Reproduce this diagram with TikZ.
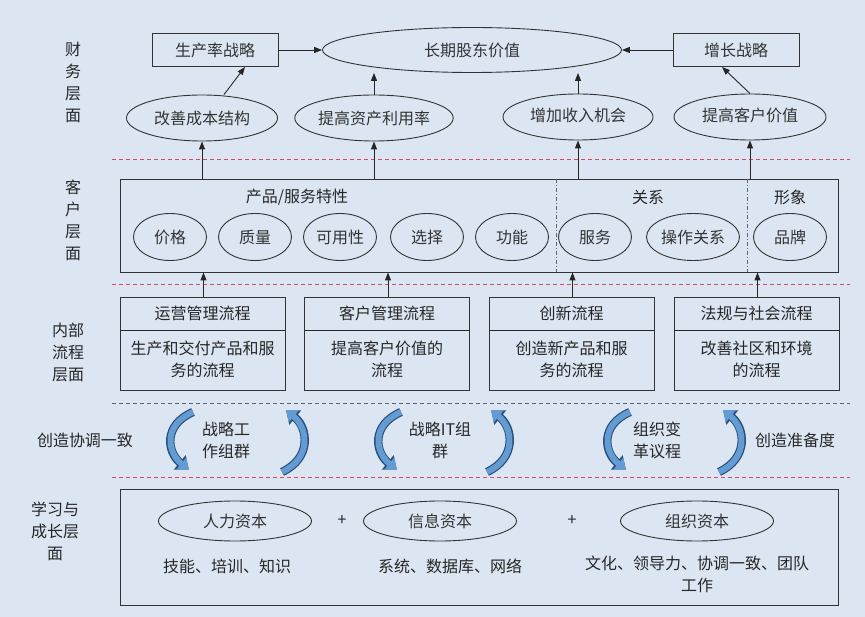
\documentclass[tikz,border=0pt]{standalone}
\usepackage{fontspec}
\setmainfont{Noto Sans CJK SC}
\usetikzlibrary{arrows.meta,shapes.geometric}
\definecolor{bg}{RGB}{220,230,242}
\definecolor{redd}{RGB}{220,70,95}
\definecolor{greyd}{RGB}{90,100,115}
\definecolor{afill}{RGB}{100,155,210}
\definecolor{aline}{RGB}{40,80,125}
\tikzset{
  txt/.style={font=\fontsize{16}{22}\selectfont, align=center, inner sep=0pt},
  ell/.style={draw, ellipse, font=\fontsize{16}{22}\selectfont, inner sep=0pt, line width=0.9pt, color=black!80},
  box/.style={draw, rectangle, line width=0.9pt, color=black!80},
  arr/.style={-{Triangle[width=6pt,length=8pt]}, line width=0.9pt, color=black!85},
  reddash/.style={draw=redd, dash pattern=on 4pt off 3pt, line width=1pt},
  greydash/.style={draw=greyd, dash pattern=on 4pt off 3pt, line width=0.9pt},
  curv/.style={afill, line width=6pt, -{Triangle[width=15pt,length=10pt]}},
  curvo/.style={aline, line width=8.4pt, -{Triangle[width=18pt,length=12pt]}}
}
\begin{document}
\begin{tikzpicture}[x=1pt,y=-1pt, black!85]
\fill[bg] (0,0) rectangle (865,617);
\useasboundingbox (0,0) rectangle (865,617);
% left labels
\node[txt] (l1) at (73,82) {财\\务\\层\\面};
\node[txt] (l2) at (73,220) {客\\户\\层\\面};
\node[txt] (l3) at (68,352) {内部\\流程\\层面};
\node[txt] (l4) at (85,440) {创造协调一致};
\node[txt] (l5) at (55,531) {学习与\\成长层\\面};
% dashed lines
\coordinate (d1a) at (112,160); \coordinate (d1b) at (850,160);
\coordinate (d2a) at (112,285); \coordinate (d2b) at (850,285);
\coordinate (d3a) at (112,403); \coordinate (d3b) at (850,403);
\coordinate (d4a) at (112,477); \coordinate (d4b) at (850,477);
\draw[reddash] (d1a) -- (d1b);
\draw[reddash] (d2a) -- (d2b);
\draw[greydash] (d3a) -- (d3b);
\draw[reddash] (d4a) -- (d4b);
% financial
\node[box, txt, minimum width=126pt, minimum height=33pt] (ps) at (215,50) {生产率战略};
\node[box, txt, minimum width=126pt, minimum height=33pt] (gs) at (736,50) {增长战略};
\node[ell, minimum width=299pt, minimum height=45pt] (lv) at (472,50) {长期股东价值};
\node[ell, minimum width=151pt, minimum height=46pt] (e1) at (202,118) {改善成本结构};
\node[ell, minimum width=152pt, minimum height=46pt] (e2) at (374,118) {提高资产利用率};
\node[ell, minimum width=150pt, minimum height=46pt] (e3) at (578,117) {\raisebox{4pt}{增加收入机会}};
\node[ell, minimum width=152pt, minimum height=46pt] (e4) at (750,117) {\raisebox{4pt}{提高客户价值}};
\draw[arr] (ps.east) -- (lv.west);
\draw[arr] (gs.west) -- (lv.east);
\draw[arr] ([xshift=22pt]e1.north) -- ([xshift=30pt]ps.south);
\draw[arr] (e2.north) -- (lv.south -| e2.north);
\draw[arr] (e3.north) -- (lv.south -| e3.north);
\draw[arr] (e4.north) -- ([xshift=-14pt]gs.south);
% customer
\node[box, minimum width=718pt, minimum height=93pt] (cb) at (479,225.5) {};
\draw[greyd, dash pattern=on 4pt off 2pt on 1pt off 2pt, line width=0.9pt] (556,179) -- (556,272);
\draw[greyd, dash pattern=on 4pt off 2pt on 1pt off 2pt, line width=0.9pt] (747,179) -- (747,272);
\node[txt] (t1) at (297,197) {产品/服务特性};
\node[txt] (t2) at (648,197) {关系};
\node[txt] (t3) at (790,197) {形象};
\node[ell, minimum width=73pt, minimum height=47pt] (c1) at (170,237) {价格};
\node[ell, minimum width=73pt, minimum height=47pt] (c2) at (255,237) {质量};
\node[ell, minimum width=73pt, minimum height=47pt] (c3) at (340,237) {可用性};
\node[ell, minimum width=73pt, minimum height=47pt] (c4) at (427,237) {选择};
\node[ell, minimum width=73pt, minimum height=47pt] (c5) at (512,237) {功能};
\node[ell, minimum width=73pt, minimum height=47pt] (c6) at (595,237) {服务};
\node[ell, minimum width=93pt, minimum height=47pt] (c7) at (693,237) {操作关系};
\node[ell, minimum width=73pt, minimum height=47pt] (c8) at (790,237) {品牌};
\draw[arr] (cb.north -| e1.south) -- (e1.south);
\draw[arr] (cb.north -| e2.south) -- (e2.south);
\draw[arr] (cb.north -| e3.south) -- (e3.south);
\draw[arr] (cb.north -| e4.south) -- (e4.south);
% internal processes
\foreach \n/\x/\a/\b in {p1/202.5/运营管理流程/生产和交付产品和服\\务的流程, p2/387/客户管理流程/提高客户价值的\\流程, p3/571.5/创新流程/创造新产品和服\\务的流程, p4/756.5/法规与社会流程/改善社区和环境\\的流程}{
  \node[box, minimum width=165pt, minimum height=93pt] (\n) at (\x,343.5) {};
  \draw[line width=0.9pt] (\x-82.5,330) -- (\x+82.5,330);
  \node[txt] (\n t) at (\x,313.5) {\a};
  \node[txt] (\n b) at (\x,359) {\b};
  \coordinate (\n u) at (\x+1,297);
  \draw[arr] (\n u) -- (cb.south -| \n u);
}
% alignment
\node[txt] (a1) at (226,440) {战略工\\作组群};
\node[txt] (a2) at (440,440) {战略IT组\\群};
\node[txt] (a3) at (657,440) {组织变\\革议程};
\node[txt] (a4) at (795,440) {创造准备度};
\foreach \x in {185,393,622}{
  \coordinate (ls\x) at (\x+8,412); \coordinate (le\x) at (\x+4,470);
  \draw[curvo] (ls\x) .. controls (\x-22,425) and (\x-18,452) .. (le\x);
  \draw[curv] (ls\x) .. controls (\x-22,425) and (\x-18,452) .. (le\x);
}
\foreach \x in {290,495,727}{
  \coordinate (rs\x) at (\x-8,472); \coordinate (re\x) at (\x-4,410);
  \draw[curvo] (rs\x) .. controls (\x+22,458) and (\x+18,428) .. (re\x);
  \draw[curv] (rs\x) .. controls (\x+22,458) and (\x+18,428) .. (re\x);
}
% learning
\node[box, minimum width=718pt, minimum height=116pt] (lb) at (479,547) {};
\node[ell, minimum width=153pt, minimum height=40pt] (h1) at (235,521) {人力资本};
\node[ell, minimum width=153pt, minimum height=40pt] (h2) at (440,521) {信息资本};
\node[ell, minimum width=153pt, minimum height=40pt] (h3) at (697,521) {组织资本};
\node[txt] (pl1) at (342,521) {+};
\node[txt] (pl2) at (572,521) {+};
\node[txt] (s1) at (227,566) {技能、培训、知识};
\node[txt] (s2) at (450,566) {系统、数据库、网络};
\node[txt, anchor=north] (s3) at (697,556) {文化、领导力、协调一致、团队\\工作};
\end{tikzpicture}
\end{document}
